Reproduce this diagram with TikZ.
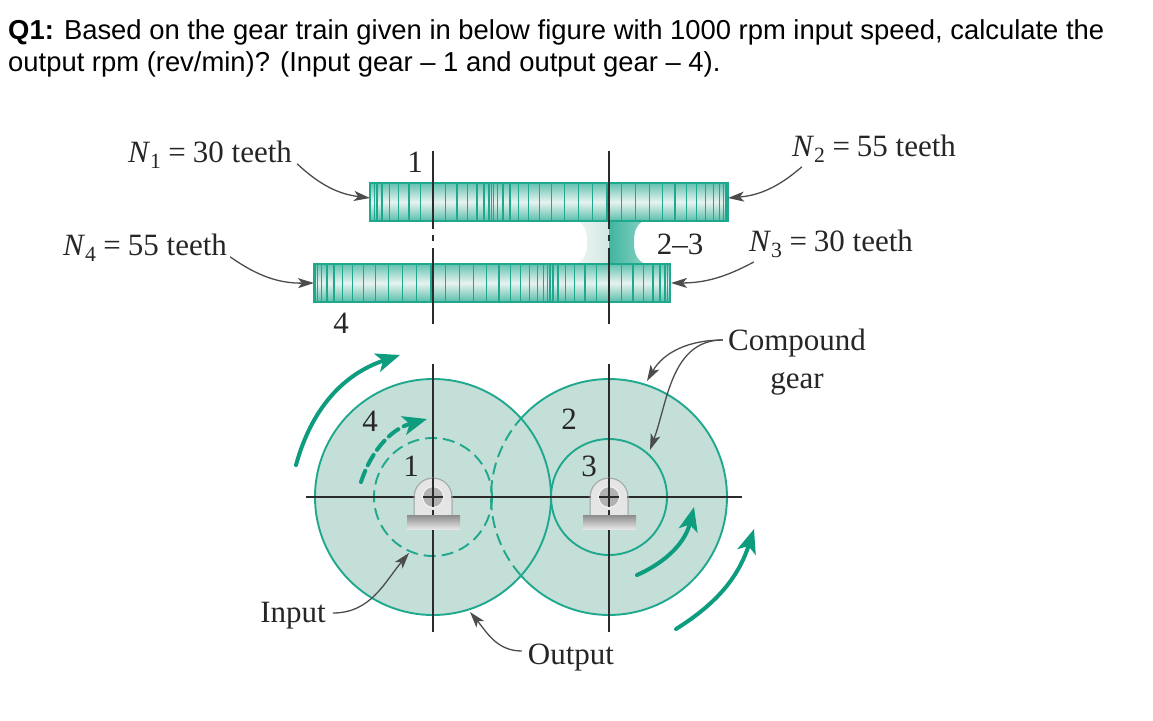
\documentclass[tikz,border=0pt]{standalone}
\usepackage{fontspec}
\setmainfont{Liberation Serif}
\newfontfamily\titlefont{Liberation Sans}
\usetikzlibrary{arrows.meta,positioning}
\definecolor{gearfill}{HTML}{C3DFD7}
\definecolor{gearline}{HTML}{1FA88E}
\definecolor{turnarrow}{HTML}{0E9C7F}
\definecolor{axisgray}{HTML}{2B2B2B}
\tikzset{
  titletext/.style={font=\titlefont\fontsize{27.4}{31}\selectfont, anchor=west, inner sep=0pt},
  labeltext/.style={font=\fontsize{31}{35}\selectfont, inner sep=0pt, text=black!85},
  pointer/.style={draw=black!70, line width=1.3pt, -{Stealth[length=16pt,width=10pt,inset=4pt]}},
  gearaxis/.style={draw=axisgray, line width=1.5pt},
  geardisk/.style={fill=gearfill, draw=none},
  gearring/.style={draw=gearline, line width=1.9pt},
  turn/.style={draw=turnarrow, line width=4pt, line cap=round, -{Stealth[length=24pt,width=19pt,inset=6pt]}},
  rimband/.style={draw=gearline, line width=1.6pt, top color=gearline!70, bottom color=gearline!75, middle color=gearfill!40},
  tooth/.style={draw=gearline, line width=1.3pt},
  bearing/.pic={
    \fill[black!10] (-18,18) -- (-18,0) arc[start angle=180,end angle=360,radius=18] -- (18,18) -- cycle;
    \draw[black!35, line width=1pt] (-19,18) -- (-19,0) arc[start angle=180,end angle=360,radius=19] -- (19,18);
    \shade[top color=black!45, bottom color=black!10] (-26,18) rectangle (27,32);
    \fill[black!30] (0,0) circle[radius=10];
    \draw[black!5, line width=1pt] (0,0) circle[radius=10.5];
    \draw[axisgray, line width=1.2pt] (-10,0) -- (10,0) (0,-19) -- (0,10) (0,13) -- (0,18);
  }
}
\begin{document}
\begin{tikzpicture}[x=1pt,y=-1pt]
  \useasboundingbox (0,0) rectangle (1153,720);
  \coordinate (c14) at (433,497);
  \coordinate (c23) at (609,497);

  \node[titletext] (q1) at (8,32) {\textbf{Q1:} Based on the gear train given in below figure with 1000 rpm input speed, calculate the};
  \node[titletext] (q2) at (8,64) {output rpm (rev/min)? (Input gear – 1 and output gear – 4).};

  \shade[left color=gearfill!30, right color=gearfill!75] (578,221) .. controls (586,226) and (587,234) .. (587,242) .. controls (587,250) and (586,258) .. (578,263) -- (609,263) -- (609,221) -- cycle;
  \shade[left color=gearline!85, right color=gearline!55] (609,221) -- (609,263) -- (643,263) .. controls (635,258) and (634,250) .. (634,242) .. controls (634,234) and (635,226) .. (643,221) -- cycle;

  \path[rimband] (370,183) rectangle (728,221);
  \path[rimband] (314,264) rectangle (670,302);
  \foreach \a in {-84,-72,...,84} {
    \draw[tooth] ({433+59*sin(\a)},183) -- ({433+59*sin(\a)},221);
    \draw[tooth] ({609+59*sin(\a)},264) -- ({609+59*sin(\a)},302);
  }
  \foreach \a in {-85,-78,...,85} {
    \draw[tooth] ({609+118*sin(\a)},183) -- ({609+118*sin(\a)},221);
    \draw[tooth] ({433+118*sin(\a)},264) -- ({433+118*sin(\a)},302);
  }

  \foreach \x in {433,609} {
    \draw[gearaxis] (\x,151) -- (\x,229) (\x,235) -- (\x,241) (\x,248) -- (\x,324);
  }

  \fill[geardisk] (c14) circle[radius=118] (c23) circle[radius=118];
  \draw[gearring] (c14) circle[radius=118];
  \draw[gearring, dash pattern=on 12pt off 6pt] (c14) circle[radius=59];
  \draw[gearring] (c23) circle[radius=58];
  \draw[gearring] (c23) ++(138.6:118) arc[start angle=138.6,end angle=-138.6,radius=118];
  \draw[gearring, dash pattern=on 12pt off 6pt] (c23) ++(138.6:118) arc[start angle=138.6,end angle=221.4,radius=118];

  \draw[gearaxis] (306,497) -- (742,497);
  \foreach \x in {433,609} {
    \draw[gearaxis] (\x,364) -- (\x,632);
  }
  \pic at (c14) {bearing};
  \pic at (c23) {bearing};

  \coordinate (t1a) at (296,465); \coordinate (t1b) at (400,355);
  \coordinate (t2a) at (361,482); \coordinate (t2b) at (427,419);
  \coordinate (t3a) at (637,575); \coordinate (t3b) at (694,507);
  \coordinate (t4a) at (676,629); \coordinate (t4b) at (754,529);
  \draw[turn] (t1a) to[bend left=28] (t1b);
  \draw[turn, dash pattern=on 12pt off 6pt] (t2a) to[bend left=28] (t2b);
  \draw[turn] (t3a) to[bend right=26] (t3b);
  \draw[turn] (t4a) to[bend right=20] (t4b);

  \node[labeltext] (n1) at (210,155) {\textit{N}\textsubscript{1}\hspace{7pt}=\hspace{7pt}30 teeth};
  \node[labeltext] (n2) at (874,149) {\textit{N}\textsubscript{2}\hspace{7pt}=\hspace{7pt}55 teeth};
  \node[labeltext] (n4) at (145,248) {\textit{N}\textsubscript{4}\hspace{7pt}=\hspace{7pt}55 teeth};
  \node[labeltext] (n3) at (831,244) {\textit{N}\textsubscript{3}\hspace{7pt}=\hspace{7pt}30 teeth};
  \node[labeltext] (one) at (415,162) {1};
  \node[labeltext] (twothree) at (680,244) {2--3};
  \node[labeltext] (four) at (341,323) {4};
  \node[labeltext] (four2) at (370,421) {4};
  \node[labeltext] (one2) at (411,466) {1};
  \node[labeltext] (two) at (569,419) {2};
  \node[labeltext] (three) at (589,466) {3};
  \node[labeltext] (compound) at (797,343) {Compound};
  \node[labeltext, below=15pt of compound] (gear) {gear};
  \node[labeltext] (input) at (293,616) {Input};
  \node[labeltext] (output) at (571,658) {Output};

  \coordinate (g1) at (370,198); \coordinate (g2) at (728,198);
  \coordinate (g4) at (314,283); \coordinate (g3) at (671,283);
  \coordinate (r2) at (647,381); \coordinate (r3) at (650,450);
  \coordinate (r1) at (409,553); \coordinate (r4) at (470,612);
  \draw[pointer] (n1.south east) ++(5,-5) to[bend right=18] (g1);
  \draw[pointer] (n2.south west) ++(10,4) to[bend left=18] (g2);
  \draw[pointer] (n4.south east) ++(3,-5) to[bend right=18] (g4);
  \draw[pointer] (n3.south west) ++(5,4) to[bend left=14] (g3);
  \draw[pointer] (compound.west) ++(-5,-3) to[out=180,in=60] (r2);
  \draw[pointer] (compound.west) ++(-5,-3) to[out=180,in=70] (r3);
  \draw[pointer] (input.east) ++(7,-3) to[out=0,in=-130] (r1);
  \draw[pointer] (output.west) ++(-6,-7) to[out=180,in=-50] (r4);
\end{tikzpicture}
\end{document}
